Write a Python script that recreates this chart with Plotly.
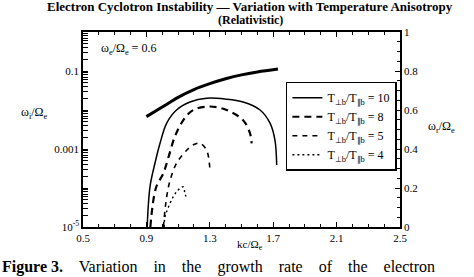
import plotly.graph_objects as go

# ---- data ----
# real frequency (right axis, linear)
kr = [0.90, 1.00, 1.10, 1.20, 1.30, 1.40, 1.50, 1.60, 1.73]
wr = [0.566, 0.615, 0.665, 0.705, 0.735, 0.76, 0.78, 0.795, 0.81]

# growth rates (left axis, log)
k10 = [0.905, 0.923, 0.954, 0.986, 1.028, 1.09, 1.175, 1.28, 1.40, 1.51, 1.617, 1.68, 1.711, 1.722]
g10 = [1e-5, 1.1e-4, 4.3e-4, 1.4e-3, 4.6e-3, 1.0e-2, 1.6e-2, 2.0e-2, 1.9e-2, 1.6e-2, 1.0e-2, 4.6e-3, 1.7e-3, 3.9e-4]

k8 = [0.925, 0.96, 1.007, 1.04, 1.08, 1.133, 1.196, 1.30, 1.406, 1.51, 1.554, 1.564]
g8 = [1e-5, 1e-4, 2.4e-4, 6.3e-4, 2.1e-3, 5.5e-3, 1.0e-2, 1.23e-2, 1.0e-2, 5.5e-3, 2.5e-3, 1.4e-3]

k5 = [1.007, 1.028, 1.05, 1.09, 1.154, 1.20, 1.238, 1.28, 1.30]
g5 = [1e-5, 6.0e-5, 1.6e-4, 4.3e-4, 9.3e-4, 1.3e-3, 1.4e-3, 9.3e-4, 3.2e-4]

k4 = [1.012, 1.017, 1.04, 1.07, 1.10, 1.133, 1.143, 1.154]
g4 = [1e-5, 1.8e-5, 3.3e-5, 6.0e-5, 8.9e-5, 1.07e-4, 7.2e-5, 5.6e-5]

xticks = [0.5, 0.9, 1.3, 1.7, 2.1, 2.5]
yl_labels = {-5: "10<sup>-5</sup>", -3: "0.001", -1: "0.1"}
yr_vals = [0, 0.2, 0.4, 0.6, 0.8, 1]
yr_text = ["0", "0.2", "0.4", "0.6", "0.8", "1"]

FONT = "Liberation Serif"
yl_vals, yl_text = [], []
for e in range(-5, 1):
    for m in range(1, 10):
        if e == 0 and m > 1:
            break
        yl_vals.append(m * 10.0 ** e)
        yl_text.append(yl_labels.get(e, "") if m == 1 else "")

fig = go.Figure()
fig.add_trace(go.Scatter(x=k10, y=g10, mode="lines", line=dict(color="black", width=1.5),
                         name="T<sub>⊥b</sub>/T<sub>∥b</sub> = 10", line_shape="spline"))
fig.add_trace(go.Scatter(x=k8, y=g8, mode="lines", line=dict(color="black", width=2.2, dash="7px,5px"),
                         name="T<sub>⊥b</sub>/T<sub>∥b</sub> = 8", line_shape="spline"))
fig.add_trace(go.Scatter(x=k5, y=g5, mode="lines", line=dict(color="black", width=1.6, dash="5px,5px"),
                         name="T<sub>⊥b</sub>/T<sub>∥b</sub> = 5", line_shape="spline"))
fig.add_trace(go.Scatter(x=k4, y=g4, mode="lines", line=dict(color="black", width=1.4, dash="2px,3px"),
                         name="T<sub>⊥b</sub>/T<sub>∥b</sub> = 4", line_shape="spline"))
fig.add_trace(go.Scatter(x=kr, y=wr, mode="lines", line=dict(color="black", width=3),
                         yaxis="y2", showlegend=False, line_shape="spline"))

fig.update_layout(
    width=474, height=277,
    margin=dict(l=83, r=74, t=32, b=50),
    paper_bgcolor="white", plot_bgcolor="white",
    font=dict(family=FONT, size=11, color="black"),
    xaxis=dict(range=[0.5, 2.5], tickvals=xticks, ticks="inside", ticklen=5, tickcolor="black",
               showline=True, linecolor="black", linewidth=1.5, mirror="ticks",
               showgrid=False, zeroline=False, tickfont=dict(size=11),
               minor=dict(dtick=0.1, ticks="inside", ticklen=3, tickcolor="black")),
    yaxis=dict(type="log", range=[-5, 0], tickmode="array", tickvals=yl_vals, ticktext=yl_text,
               ticks="inside", ticklen=5, tickwidth=1, tickcolor="black",
               showline=True, linecolor="black", linewidth=1.5,
               showgrid=False, zeroline=False, tickfont=dict(size=11)),
    yaxis2=dict(overlaying="y", side="right", range=[0, 1], tickvals=yr_vals, ticktext=yr_text,
                ticks="inside", ticklen=5, tickcolor="black", showline=True, linecolor="black", linewidth=1.5,
                showgrid=False, zeroline=False, tickfont=dict(size=11),
                minor=dict(dtick=0.05, ticks="inside", ticklen=3, tickcolor="black")),
    legend=dict(x=0.64, y=0.745, xanchor="left", yanchor="top", bordercolor="black",
                borderwidth=1.5, bgcolor="white", font=dict(family=FONT, size=12)),
    showlegend=True,
)

def ann(text, px, py, size=11, bold=False, xanchor="center"):
    t = f"<b>{text}</b>" if bold else text
    fig.add_annotation(text=t, x=(px - 83) / 317, y=(227 - py) / 195, xref="paper", yref="paper",
                       showarrow=False, xanchor=xanchor, yanchor="middle",
                       font=dict(family=FONT, size=size, color="black"))

ann("Electron Cyclotron Instability — Variation with Temperature Anisotropy", 250, 6, 13, True)
ann("(Relativistic)", 250, 20, 12, True)
ann("ω<sub>e</sub>/Ω<sub>e</sub> = 0.6", 128, 49, 12)
ann("ω<sub>i</sub>/Ω<sub>e</sub>", 34, 113, 12)
ann("ω<sub>r</sub>/Ω<sub>e</sub>", 441, 127, 12)
ann("kc/Ω<sub>e</sub>", 250, 245, 11)
ann("<b>Figure 3.</b>    Variation    in    the    growth    rate    of    the    electron", 0, 267, 16, False, "left")

fig.write_html("out.html")
